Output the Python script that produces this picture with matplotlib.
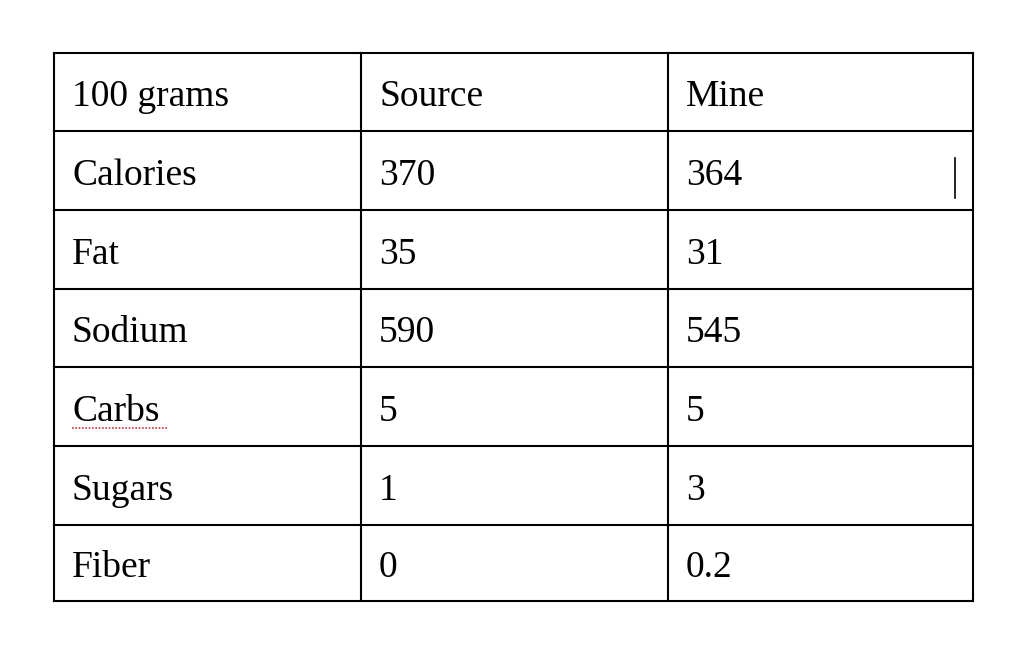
import matplotlib.pyplot as plt

header = ['100 grams', 'Source', 'Mine']
nutrients = ['Calories', 'Fat', 'Sodium', 'Carbs', 'Sugars', 'Fiber']
source = ['370', '35', '590', '5', '1', '0']
mine = ['364', '31', '545', '5', '3', '0.2']

col_x = [54, 361, 668, 973]
row_y = [53, 131, 210, 289, 367, 446, 525, 601]

fig = plt.figure(figsize=(10.24, 6.58), dpi=100)
ax = fig.add_axes([0, 0, 1, 1])
ax.set_xlim(0, 1024)
ax.set_ylim(658, 0)
ax.axis('off')

for x in col_x:
    ax.plot([x, x], [row_y[0], row_y[-1]], color='black', lw=1.5)
for y in row_y:
    ax.plot([col_x[0], col_x[-1]], [y, y], color='black', lw=1.5)

rows = [header] + [[n, s, m] for n, s, m in zip(nutrients, source, mine)]
for i, row in enumerate(rows):
    yc = (row_y[i] + row_y[i + 1]) / 2 + 5
    for j, txt in enumerate(row):
        ax.text(col_x[j] + 18, yc, txt, fontsize=27,
                family=['Liberation Serif', 'DejaVu Serif'],
                ha='left', va='center')

# text cursor in the Calories row
ax.plot([955, 955], [158, 198], color='black', lw=1.2)
# spell-check underline below "Carbs"
ax.plot([72, 168], [428, 428], color='#d03030', lw=1.2, ls=(0, (1, 1)))

fig.savefig('out.png', dpi=100)
